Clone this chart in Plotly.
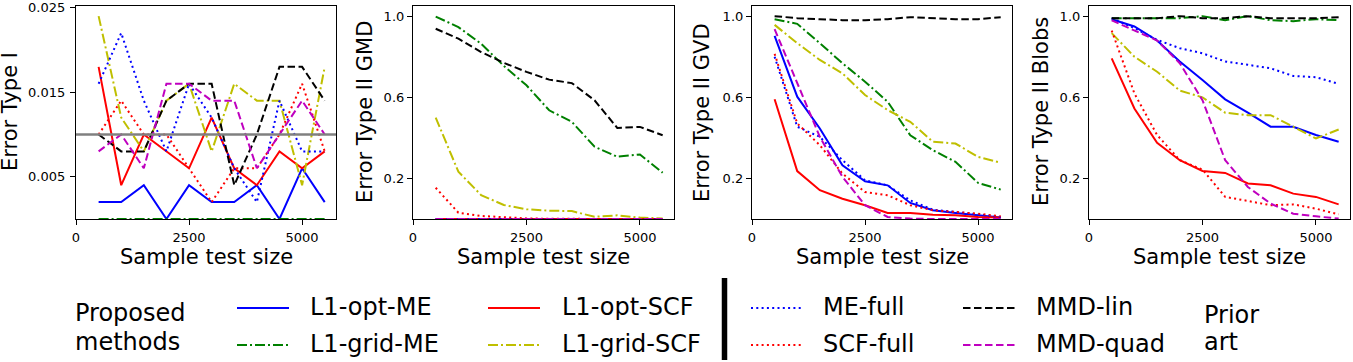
import plotly.graph_objects as go

# ---------------- data ----------------
sizes = [500, 1000, 1500, 2000, 2500, 3000, 3500, 4000, 4500, 5000, 5500]
methods = ["L1-opt-ME", "L1-grid-ME", "L1-opt-SCF", "L1-grid-SCF",
           "ME-full", "SCF-full", "MMD-lin", "MMD-quad"]

# Panel 1: Type I error
t1_opt_me   = [0.002, 0.002, 0.004, 0.000, 0.004, 0.002, 0.002, 0.004, 0.000, 0.006, 0.002]
t1_grid_me  = [0.000, 0.000, 0.000, 0.000, 0.000, 0.000, 0.000, 0.000, 0.000, 0.000, 0.000]
t1_opt_scf  = [0.018, 0.004, 0.010, 0.008, 0.006, 0.012, 0.006, 0.004, 0.008, 0.006, 0.008]
t1_grid_scf = [0.024, 0.012, 0.008, 0.014, 0.016, 0.008, 0.016, 0.014, 0.014, 0.004, 0.018]
t1_me_full  = [0.016, 0.022, 0.014, 0.008, 0.016, 0.012, 0.006, 0.002, 0.014, 0.008, 0.008]
t1_scf_full = [0.010, 0.014, 0.010, 0.010, 0.006, 0.002, 0.006, 0.006, 0.010, 0.016, 0.008]
t1_mmd_lin  = [0.010, 0.008, 0.008, 0.014, 0.016, 0.016, 0.004, 0.010, 0.018, 0.018, 0.014]
t1_mmd_quad = [0.008, 0.010, 0.006, 0.016, 0.016, 0.014, 0.014, 0.006, 0.010, 0.014, 0.010]

# Panel 2: Type II error, GMD
gmd_opt_me   = [0.0, 0.0, 0.0, 0.0, 0.0, 0.0, 0.0, 0.0, 0.0, 0.0, 0.0]
gmd_grid_me  = [0.998, 0.946, 0.864, 0.755, 0.659, 0.536, 0.479, 0.356, 0.307, 0.318, 0.228]
gmd_opt_scf  = [0.0, 0.0, 0.0, 0.0, 0.0, 0.0, 0.0, 0.0, 0.0, 0.0, 0.0]
gmd_grid_scf = [0.500, 0.233, 0.118, 0.069, 0.048, 0.041, 0.039, 0.011, 0.018, 0.007, 0.003]
gmd_me_full  = [0.0, 0.0, 0.0, 0.0, 0.0, 0.0, 0.0, 0.0, 0.0, 0.0, 0.0]
gmd_scf_full = [0.154, 0.031, 0.015, 0.008, 0.003, 0.001, 0.0, 0.0, 0.0, 0.0, 0.0]
gmd_mmd_lin  = [0.938, 0.889, 0.823, 0.770, 0.725, 0.687, 0.670, 0.585, 0.449, 0.454, 0.413]
gmd_mmd_quad = [0.0, 0.0, 0.0, 0.0, 0.0, 0.0, 0.0, 0.0, 0.0, 0.0, 0.0]

# Panel 3: Type II error, GVD
gvd_opt_me   = [0.903, 0.603, 0.446, 0.265, 0.186, 0.166, 0.079, 0.043, 0.030, 0.018, 0.007]
gvd_grid_me  = [0.985, 0.962, 0.867, 0.768, 0.677, 0.578, 0.413, 0.339, 0.282, 0.178, 0.145]
gvd_opt_scf  = [0.590, 0.236, 0.142, 0.100, 0.068, 0.030, 0.030, 0.021, 0.018, 0.010, 0.007]
gvd_grid_scf = [0.957, 0.867, 0.784, 0.718, 0.611, 0.537, 0.479, 0.381, 0.372, 0.306, 0.278]
gvd_me_full  = [0.800, 0.455, 0.405, 0.290, 0.191, 0.166, 0.092, 0.046, 0.035, 0.021, 0.010]
gvd_scf_full = [0.814, 0.471, 0.364, 0.224, 0.133, 0.117, 0.068, 0.043, 0.035, 0.026, 0.013]
gvd_mmd_lin  = [1.000, 0.990, 0.985, 0.980, 0.980, 0.985, 0.995, 0.990, 0.985, 0.985, 0.995]
gvd_mmd_quad = [0.936, 0.669, 0.405, 0.208, 0.068, 0.010, 0.002, 0.0, 0.0, 0.0, 0.0]

# Panel 4: Type II error, Blobs
blb_opt_me   = [0.985, 0.949, 0.880, 0.776, 0.685, 0.590, 0.524, 0.455, 0.455, 0.414, 0.381]
blb_grid_me  = [0.990, 0.990, 0.990, 0.990, 1.000, 0.980, 1.000, 0.980, 0.975, 0.985, 0.980]
blb_opt_scf  = [0.792, 0.545, 0.376, 0.290, 0.237, 0.227, 0.175, 0.166, 0.125, 0.109, 0.072]
blb_grid_scf = [0.916, 0.800, 0.726, 0.633, 0.600, 0.524, 0.512, 0.512, 0.455, 0.397, 0.441]
blb_me_full  = [0.990, 0.941, 0.883, 0.842, 0.817, 0.776, 0.760, 0.743, 0.705, 0.699, 0.666]
blb_scf_full = [0.929, 0.619, 0.414, 0.290, 0.244, 0.109, 0.089, 0.068, 0.072, 0.051, 0.023]
blb_mmd_lin  = [0.990, 0.990, 0.990, 1.000, 0.990, 0.990, 1.000, 0.990, 0.990, 0.990, 0.995]
blb_mmd_quad = [0.979, 0.929, 0.880, 0.768, 0.586, 0.290, 0.158, 0.076, 0.026, 0.013, 0.002]

panel_titles = ["Error Type I", "Error Type II GMD", "Error Type II GVD", "Error Type II Blobs"]
x_title = "Sample test size"
x_ticks = [0, 2500, 5000]
x_ticktext = ["0", "2500", "5000"]
y_ticks_p1 = [0.005, 0.015, 0.025]
y_ticktext_p1 = ["0.005", "0.015", "0.025"]
y_ticks_p2 = [0.2, 0.6, 1.0]
y_ticktext_p2 = ["0.2", "0.6", "1.0"]
alpha_level = 0.01

panels = [
    [t1_opt_me, t1_grid_me, t1_opt_scf, t1_grid_scf, t1_me_full, t1_scf_full, t1_mmd_lin, t1_mmd_quad],
    [gmd_opt_me, gmd_grid_me, gmd_opt_scf, gmd_grid_scf, gmd_me_full, gmd_scf_full, gmd_mmd_lin, gmd_mmd_quad],
    [gvd_opt_me, gvd_grid_me, gvd_opt_scf, gvd_grid_scf, gvd_me_full, gvd_scf_full, gvd_mmd_lin, gvd_mmd_quad],
    [blb_opt_me, blb_grid_me, blb_opt_scf, blb_grid_scf, blb_me_full, blb_scf_full, blb_mmd_lin, blb_mmd_quad],
]

# ---------------- styles ----------------
FONT = "DejaVu Sans"
W, H = 1353, 362
DASH = "7.5px,3.5px"
DASHDOT = "10px,3px,2px,3px"
DOT = "2px,3.3px"
style = {
    "L1-opt-ME":   ("#0000ff", "solid"),
    "L1-grid-ME":  ("#008000", DASHDOT),
    "L1-opt-SCF":  ("#ff0000", "solid"),
    "L1-grid-SCF": ("#bfbf00", DASHDOT),
    "ME-full":     ("#0000ff", DOT),
    "SCF-full":    ("#ff0000", DOT),
    "MMD-lin":     ("#000000", DASH),
    "MMD-quad":    ("#bf00bf", DASH),
}
LW = 2
TICKFONT = dict(family=FONT, size=13, color="black")


def pxx(x):
    return x / W


def pxy(y):
    return 1 - y / H


x_dom_px = [(76, 336), (413, 674), (752, 1012), (1089, 1350)]
y_dom = [pxy(219), pxy(6)]
ytitle_x_px = [10, 365, 702, 1041]
y_ranges = [[0, 0.0252], [0, 1.05], [0, 1.05], [0, 1.05]]
standoffs = [2, 0, 0, 0]

fig = go.Figure()

for i, series in enumerate(panels):
    sfx = "" if i == 0 else str(i + 1)
    for name, vals in zip(methods, series):
        c, d = style[name]
        fig.add_trace(go.Scatter(
            x=sizes, y=vals, mode="lines", name=name,
            line=dict(color=c, width=LW, dash=d),
            xaxis="x" + sfx, yaxis="y" + sfx,
            showlegend=False, hoverinfo="skip"))

axis_common = dict(showline=True, mirror=True, linecolor="black", linewidth=1.2,
                   ticks="outside", ticklen=5, tickwidth=1, tickcolor="black",
                   showgrid=False, zeroline=False, automargin=False,
                   tickfont=TICKFONT)

layout = {}
annotations = []
for i in range(4):
    sfx = "" if i == 0 else str(i + 1)
    x0, x1 = x_dom_px[i]
    layout["xaxis" + sfx] = dict(axis_common, domain=[pxx(x0), pxx(x1)],
                                 anchor="y" + sfx, range=[0, 5750],
                                 tickvals=x_ticks, ticktext=x_ticktext,
                                 ticklabelstandoff=1)
    yt = y_ticks_p1 if i == 0 else y_ticks_p2
    ytt = y_ticktext_p1 if i == 0 else y_ticktext_p2
    layout["yaxis" + sfx] = dict(axis_common, domain=y_dom, anchor="x" + sfx,
                                 range=y_ranges[i], tickvals=yt, ticktext=ytt,
                                 ticklabelstandoff=standoffs[i])
    # axis titles
    annotations.append(dict(text=x_title, xref="paper", yref="paper",
                            x=pxx((x0 + x1) / 2), y=pxy(257), xanchor="center",
                            yanchor="middle", showarrow=False,
                            font=dict(family=FONT, size=21, color="black")))
    annotations.append(dict(text=panel_titles[i], xref="paper", yref="paper",
                            x=pxx(ytitle_x_px[i]), y=pxy(112), xanchor="center",
                            yanchor="middle", textangle=-90, showarrow=False,
                            font=dict(family=FONT, size=21, color="black")))

shapes = []
# significance level line in panel 1
shapes.append(dict(type="line", xref="x domain", yref="y", x0=0, x1=1,
                   y0=alpha_level, y1=alpha_level,
                   line=dict(color="#808080", width=2.5)))

# ---------------- custom legend ----------------
LFONT = dict(family=FONT, size=24, color="black")
ROW1, ROW2 = 308, 345
legend_items = [
    ("L1-opt-ME", 237, 308, ROW1),
    ("L1-grid-ME", 237, 308, ROW2),
    ("L1-opt-SCF", 488, 560, ROW1),
    ("L1-grid-SCF", 488, 560, ROW2),
    ("ME-full", 751, 821, ROW1),
    ("SCF-full", 751, 821, ROW2),
    ("MMD-lin", 963, 1034, ROW1),
    ("MMD-quad", 963, 1034, ROW2),
]
for name, lx, tx, ry in legend_items:
    c, d = style[name]
    shapes.append(dict(type="line", xref="paper", yref="paper",
                       x0=pxx(lx), x1=pxx(lx + 52), y0=pxy(ry), y1=pxy(ry),
                       line=dict(color=c, width=LW, dash=d)))
    annotations.append(dict(text=name, xref="paper", yref="paper",
                            x=pxx(tx), y=pxy(ry - 1), xanchor="left", yanchor="middle",
                            showarrow=False, font=LFONT))

group_labels = [("Proposed", 73, 313), ("methods", 73, 342),
                ("Prior", 1202, 314.5), ("art", 1202, 342)]
for txt, gx, gy in group_labels:
    annotations.append(dict(text=txt, xref="paper", yref="paper",
                            x=pxx(gx), y=pxy(gy), xanchor="left", yanchor="middle",
                            showarrow=False, font=LFONT))

# vertical separator bar
shapes.append(dict(type="line", xref="paper", yref="paper",
                   x0=pxx(724.5), x1=pxx(724.5), y0=pxy(278), y1=pxy(360),
                   line=dict(color="black", width=5.5)))

fig.update_layout(
    width=W, height=H,
    margin=dict(l=0, r=0, t=0, b=0),
    paper_bgcolor="white", plot_bgcolor="white",
    showlegend=False,
    annotations=annotations, shapes=shapes,
    **layout)

fig.write_html(
    "out.html",
    config={"displayModeBar": False},
    post_script="document.body.style.margin='0px';document.body.style.padding='0px';"
                "document.documentElement.style.overflow='hidden';")
